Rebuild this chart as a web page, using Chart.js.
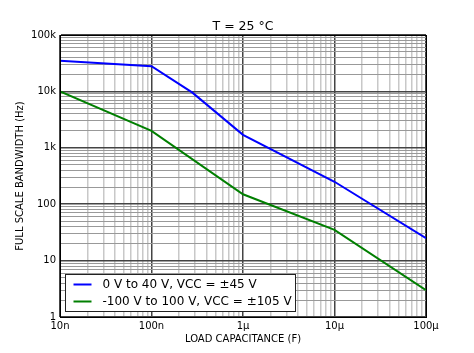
<!DOCTYPE html>
<html>
<head>
<meta charset="utf-8">
<script src="https://cdn.jsdelivr.net/npm/chart.js@4"></script>
<style>
  html, body { margin: 0; padding: 0; background: #fff; }
  #wrap { width: 474px; height: 353px; }
</style>
</head>
<body>
<div id="wrap"><canvas id="bwChart" width="474" height="353"></canvas></div>
<script>
// Data
const blueCap = [1e-8, 1e-7, 2.8e-7, 1e-6, 1e-5, 1e-4];
const blueBW = [35000, 28000, 9500, 1700, 250, 25];
const greenCap = [1e-8, 1e-7, 1e-6, 1e-5, 1e-4];
const greenBW = [10000, 2000, 150, 35, 3];

const xDecades = [1e-8, 1e-7, 1e-6, 1e-5, 1e-4];
const xDecadeLabels = ['10n', '100n', '1µ', '10µ', '100µ'];
const yDecades = [1, 10, 100, 1000, 10000, 100000];
const yDecadeLabels = ['1', '10', '100', '1k', '10k', '100k'];

const FONT = 'DejaVu Sans';
const chartTitle = 'T = 25 °C';

function findDecade(list, v) {
  return list.findIndex(d => Math.abs(Math.log10(d) - Math.log10(v)) < 1e-6);
}

// all 1..9 x 10^n ticks between the decades
function logTicks(decades) {
  const out = [];
  decades.forEach((d, i) => {
    out.push({ value: d });
    if (i < decades.length - 1) {
      for (let m = 2; m <= 9; m++) out.push({ value: d * m });
    }
  });
  return out;
}

const isMajor = (decades) => (ctx) => ctx.tick && findDecade(decades, ctx.tick.value) >= 0;

// Frame, title and legend
const framePlugin = {
  id: 'frame',
  afterDraw(chart) {
    const { ctx, chartArea: a } = chart;
    ctx.save();
    ctx.strokeStyle = '#000';
    ctx.lineWidth = 1;
    ctx.strokeRect(Math.round(a.left) + 0.5, Math.round(a.top) + 0.5, Math.round(a.right - a.left), Math.round(a.bottom - a.top));

    // title centred over the plot
    ctx.fillStyle = '#000';
    ctx.font = '12.5px "' + FONT + '"';
    ctx.textAlign = 'center';
    ctx.textBaseline = 'middle';
    ctx.fillText(chartTitle, (a.left + a.right) / 2, 27);

    // legend box
    const bx = 65.5, by = 274.5, bw = 230, bh = 37;
    ctx.fillStyle = '#fff';
    ctx.fillRect(bx, by, bw, bh);
    ctx.strokeStyle = '#222';
    ctx.strokeRect(bx, by, bw, bh);
    ctx.font = '12px "' + FONT + '"';
    ctx.textAlign = 'left';
    chart.data.datasets.forEach((ds, i) => {
      const y = by + 10 + i * 17;
      ctx.strokeStyle = ds.borderColor;
      ctx.lineWidth = 2;
      ctx.beginPath();
      ctx.moveTo(bx + 8, y);
      ctx.lineTo(bx + 26, y);
      ctx.stroke();
      ctx.fillStyle = '#000';
      ctx.fillText(ds.label, bx + 37, y);
    });
    ctx.restore();
  }
};

new Chart(document.getElementById('bwChart'), {
  type: 'scatter',
  data: {
    datasets: [{
      label: '0 V to 40 V, VCC = ±45 V',
      data: blueCap.map((c, i) => ({ x: c, y: blueBW[i] })),
      borderColor: '#0000ff',
      showLine: true,
      pointRadius: 0,
      borderWidth: 2
    }, {
      label: '-100 V to 100 V, VCC = ±105 V',
      data: greenCap.map((c, i) => ({ x: c, y: greenBW[i] })),
      borderColor: '#007f00',
      showLine: true,
      pointRadius: 0,
      borderWidth: 2
    }]
  },
  options: {
    responsive: false,
    animation: false,
    layout: { padding: { left: 0, right: 48, top: 35, bottom: 0 } },
    plugins: {
      legend: { display: false },
      tooltip: { enabled: false },
      title: { display: false }
    },
    scales: {
      x: {
        type: 'logarithmic',
        min: 1e-8,
        max: 1e-4,
        afterBuildTicks: (axis) => { axis.ticks = logTicks(xDecades); },
        afterFit: (axis) => { axis.height = 36; },
        grid: {
          color: (ctx) => isMajor(xDecades)(ctx) ? '#444444' : '#c8c8c8',
          lineWidth: 1.5,
          drawTicks: false
        },
        border: { color: '#000' },
        ticks: {
          autoSkip: false,
          maxRotation: 0,
          padding: 3,
          color: '#000',
          font: { family: FONT, size: 10 },
          callback: (v) => {
            const i = findDecade(xDecades, v);
            return i >= 0 ? xDecadeLabels[i] : '';
          }
        },
        title: {
          display: true,
          text: 'LOAD CAPACITANCE (F)',
          color: '#000',
          font: { family: FONT, size: 10 },
          padding: { top: 0, bottom: 8 }
        }
      },
      y: {
        type: 'logarithmic',
        min: 1,
        max: 100000,
        afterBuildTicks: (axis) => { axis.ticks = logTicks(yDecades); },
        afterFit: (axis) => { axis.width = 60; },
        grid: {
          color: (ctx) => isMajor(yDecades)(ctx) ? '#444444' : '#999999',
          lineWidth: (ctx) => isMajor(yDecades)(ctx) ? 1.5 : 1,
          drawTicks: false
        },
        border: { color: '#000' },
        ticks: {
          autoSkip: false,
          padding: 4,
          color: '#000',
          font: { family: FONT, size: 10 },
          callback: (v) => {
            const i = findDecade(yDecades, v);
            return i >= 0 ? yDecadeLabels[i] : '';
          }
        },
        title: {
          display: true,
          text: 'FULL SCALE BANDWIDTH (Hz)',
          color: '#000',
          font: { family: FONT, size: 10 },
          padding: { top: 14, bottom: 0 }
        }
      }
    }
  },
  plugins: [framePlugin]
});
</script>
</body>
</html>
